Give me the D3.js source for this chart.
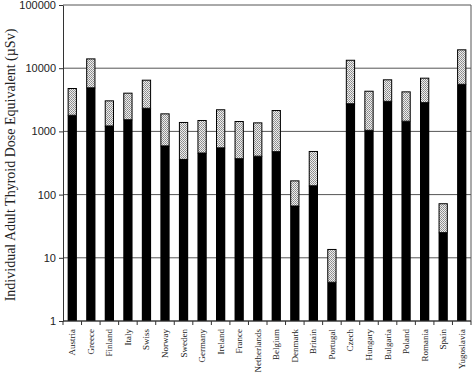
<!DOCTYPE html>
<html>
<head>
<meta charset="utf-8">
<script src="https://cdn.jsdelivr.net/npm/d3@7"></script>
<style>
  html, body { margin: 0; padding: 0; background: #fff; }
  svg { display: block; }
</style>
</head>
<body>
<svg id="chart"></svg>
<script>
// Thyroid dose by country, log scale, stacked black + stippled bars

const countries = ['Austria', 'Greece', 'Finland', 'Italy', 'Swiss', 'Norway', 'Sweden',
    'Germany', 'Ireland', 'France', 'Netherlands', 'Belgium', 'Denmark', 'Britain',
    'Portugal', 'Czech', 'Hungary', 'Bulgaria', 'Poland', 'Romania', 'Spain', 'Yugoslavia'];

// top of the black part of each bar
const lowerDose = [1800, 4900, 1220, 1530, 2320, 590, 360, 455, 550, 370, 405, 478,
    66, 138, 4.1, 2740, 1040, 2990, 1450, 2850, 25, 5560];

// top of the stippled part (whole bar)
const totalDose = [4860, 14300, 3100, 4100, 6580, 1930, 1410, 1515, 2240, 1460, 1390, 2180,
    168, 490, 13.8, 13600, 4400, 6670, 4300, 7080, 73, 19900];

const yTicks = [1, 10, 100, 1000, 10000, 100000];

const W = 474, H = 376;
const M = { top: 5, right: 3, bottom: 55, left: 63 };
const iW = W - M.left - M.right;
const iH = H - M.top - M.bottom;

const svg = d3.select('#chart').attr('width', W).attr('height', H);

// stipple pattern for the upper part
const defs = svg.append('defs');
const pat = defs.append('pattern')
    .attr('id', 'stipple')
    .attr('width', 2).attr('height', 2)
    .attr('patternUnits', 'userSpaceOnUse');
pat.append('rect').attr('width', 2).attr('height', 2).attr('fill', '#eee');
pat.append('rect').attr('x', 0).attr('y', 0).attr('width', 1).attr('height', 1).attr('fill', '#888');
pat.append('rect').attr('x', 1).attr('y', 1).attr('width', 1).attr('height', 1).attr('fill', '#999');

const g = svg.append('g').attr('transform', `translate(${M.left},${M.top})`);

const x = d3.scaleBand().domain(countries).range([0, iW]).paddingInner(0.5).paddingOuter(0.25);
const y = d3.scaleLog().domain([1, 100000]).range([iH, 0]);

// gridlines
g.append('g')
    .selectAll('line')
    .data(yTicks)
    .join('line')
    .attr('x1', 0).attr('x2', iW)
    .attr('y1', d => y(d)).attr('y2', d => y(d))
    .attr('stroke', '#555')
    .attr('stroke-width', 1);

// right frame
g.append('line')
    .attr('x1', iW).attr('x2', iW).attr('y1', 0).attr('y2', iH)
    .attr('stroke', '#555');

// bars: black lower part
g.selectAll('.bar-low')
    .data(countries)
    .join('rect')
    .attr('class', 'bar-low')
    .attr('x', d => x(d))
    .attr('width', x.bandwidth())
    .attr('y', (d, i) => y(lowerDose[i]))
    .attr('height', (d, i) => y(1) - y(lowerDose[i]))
    .attr('fill', '#000');

// bars: stippled upper part
g.selectAll('.bar-high')
    .data(countries)
    .join('rect')
    .attr('class', 'bar-high')
    .attr('x', d => x(d) + 0.5)
    .attr('width', x.bandwidth() - 1)
    .attr('y', (d, i) => y(totalDose[i]) + 0.5)
    .attr('height', (d, i) => y(lowerDose[i]) - y(totalDose[i]) - 0.5)
    .attr('fill', 'url(#stipple)')
    .attr('stroke', '#000')
    .attr('stroke-width', 1);

// y axis
const yAxis = g.append('g')
    .call(d3.axisLeft(y).tickValues(yTicks).tickFormat(d3.format('d')).tickSize(4).tickSizeOuter(0));
yAxis.select('.domain').attr('stroke', '#333');
yAxis.selectAll('.tick line').attr('stroke', '#333');
yAxis.selectAll('text')
    .attr('font-family', '"Liberation Sans", Arial, sans-serif')
    .attr('font-size', '11px')
    .attr('fill', '#222')
    .attr('x', -7);

// x axis: ticks between categories
const xAxisG = g.append('g').attr('transform', `translate(0,${iH})`);
xAxisG.append('line')
    .attr('x1', 0).attr('x2', iW)
    .attr('stroke', '#333');
xAxisG.selectAll('.xtick')
    .data(d3.range(countries.length + 1))
    .join('line')
    .attr('class', 'xtick')
    .attr('x1', i => i * x.step())
    .attr('x2', i => i * x.step())
    .attr('y1', 0).attr('y2', 4)
    .attr('stroke', '#333');

xAxisG.selectAll('.xlabel')
    .data(countries)
    .join('text')
    .attr('class', 'xlabel')
    .attr('transform', d => `translate(${x(d) + x.bandwidth() / 2 + 3},8) rotate(-90)`)
    .attr('text-anchor', 'end')
    .attr('font-family', '"Liberation Serif", "Times New Roman", serif')
    .attr('font-size', '9px')
    .attr('fill', '#222')
    .text(d => d);

// y title
svg.append('text')
    .attr('transform', `translate(15,${M.top + iH / 2 + 2}) rotate(-90)`)
    .attr('text-anchor', 'middle')
    .attr('font-family', '"Liberation Serif", "Times New Roman", serif')
    .attr('font-size', '14px')
    .attr('fill', '#222')
    .text('Individual Adult Thyroid Dose Equivalent (µSv)');
</script>
</body>
</html>
